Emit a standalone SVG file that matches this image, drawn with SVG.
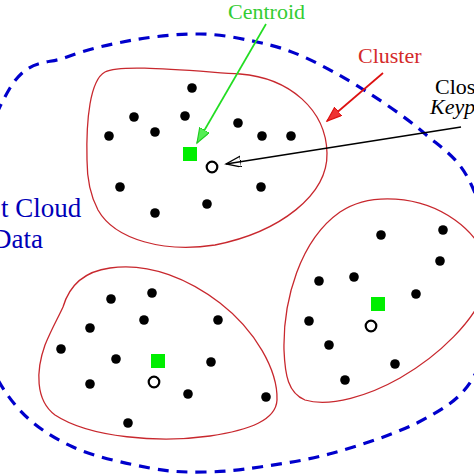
<svg xmlns="http://www.w3.org/2000/svg" width="474" height="474" viewBox="0 0 474 474">
<style>
.cl{fill:none;stroke:#c8282e;stroke-width:1.3}
.dot{fill:#000}
.cen{fill:#00ee00}
.key{fill:none;stroke:#000;stroke-width:2.2}
.t{font-family:"Liberation Serif","Times New Roman",serif;font-size:22px}
.big{font-family:"Liberation Serif","Times New Roman",serif;font-size:27px;fill:#0000b8}
</style>
<defs>
<marker id="ag" markerUnits="userSpaceOnUse" markerWidth="17" markerHeight="12" refX="15" refY="5.5" orient="auto"><path d="M0,0 L15,5.5 L0,11 z" fill="#55ee55" stroke="#22cc22" stroke-width="1.2"/></marker>
<marker id="ar" markerUnits="userSpaceOnUse" markerWidth="17" markerHeight="12" refX="15" refY="5.5" orient="auto"><path d="M0,0 L15,5.5 L0,11 z" fill="#ee3333" stroke="#dd1111" stroke-width="1.2"/></marker>
<marker id="ak" markerUnits="userSpaceOnUse" markerWidth="17" markerHeight="12" refX="15" refY="5.5" orient="auto"><path d="M0,0 L15,5.5 L0,11 z" fill="none" stroke="#000" stroke-width="1.3"/></marker>
</defs>
<rect width="474" height="474" fill="#fff"/>
<g id="cloud">
<path d="M -45,240 C -40,198 -8.7,118.5 10,88 C 28.7,57.5 46.5,65 67,57 C 87.5,49 112.5,43.8 133,40 C 155.2,36.2 179.3,33.7 200,34 C 220.7,34.3 239.7,38.2 257,42 C 274.3,45.8 286.2,49 304,57 C 321.8,65 344,77.3 364,90 C 384,102.7 406.3,117.7 424,133 C 441.7,148.3 457.7,156.7 470,182 C 482.3,207.3 497.5,252.3 498,285 C 498.5,317.7 486.5,355 473,378 C 459.5,401 440.3,410.5 417,423 C 390.8,435.5 359.2,445.7 333,453 C 306.8,460.3 281.3,463.8 260,467 C 238.7,470.2 223.3,471.8 205,472 C 186.7,472.2 172,472.2 150,468 C 128,463.8 95.2,457.2 73,447 C 50.8,436.8 32.5,424.8 17,407 C 1.5,389.2 -9.7,367.8 -20,340 C -30.3,312.2 -50,282 -45,240 Z" fill="none" stroke="#0000cc" stroke-width="3.2" stroke-dasharray="11,8"/>
<text class="big" x="1" y="217">t Cloud</text>
<text class="big" x="-8" y="248">Data</text>
</g>
<g id="cluster1">
<path class="cl" d="M 87,160 C 86,120 90,80 105,72 C 120,64 180,70 240,74 C 290,78 326,110 327,153 C 328,195 280,232 215,245 C 165,253 115,240 98,210 C 90,195 87,180 87,160 Z"/>
<g class="dot">
<circle cx="192" cy="88" r="4.8"/><circle cx="134" cy="117" r="4.8"/><circle cx="185" cy="116" r="4.8"/><circle cx="155" cy="132" r="4.8"/><circle cx="109" cy="136" r="4.8"/><circle cx="238" cy="123" r="4.8"/><circle cx="262" cy="136" r="4.8"/><circle cx="291" cy="136" r="4.8"/><circle cx="120" cy="187" r="4.8"/><circle cx="155" cy="213" r="4.8"/><circle cx="207" cy="204" r="4.8"/><circle cx="261" cy="187" r="4.8"/>
</g>
<rect class="cen" x="183" y="147" width="14" height="14"/>
<circle class="key" cx="212" cy="167" r="5.3"/>
</g>
<g id="cluster2">
<path class="cl" d="M 63,307 C 68,290 80,272 110,268 C 150,262 190,280 220,303 C 255,330 278,370 277,400 C 276,420 250,430 210,436 C 160,443 90,438 55,415 C 35,400 36,370 45,345 C 52,328 58,318 63,307 Z"/>
<g class="dot">
<circle cx="111" cy="299" r="4.8"/><circle cx="152" cy="293" r="4.8"/><circle cx="90" cy="328" r="4.8"/><circle cx="144" cy="320" r="4.8"/><circle cx="218" cy="320" r="4.8"/><circle cx="61" cy="349" r="4.8"/><circle cx="116" cy="359" r="4.8"/><circle cx="211" cy="362" r="4.8"/><circle cx="90" cy="384" r="4.8"/><circle cx="188" cy="394" r="4.8"/><circle cx="266" cy="397" r="4.8"/><circle cx="128" cy="423" r="4.8"/>
</g>
<rect class="cen" x="151" y="354" width="14" height="14"/>
<circle class="key" cx="154" cy="382" r="5.3"/>
</g>
<g id="cluster3">
<path class="cl" d="M 284,350 C 283,300 300,240 340,212 C 370,192 420,195 455,220 C 480,238 495,265 485,290 C 475,320 440,355 400,378 C 370,395 330,408 305,400 C 288,393 285,375 284,350 Z"/>
<g class="dot">
<circle cx="381" cy="235" r="4.8"/><circle cx="443" cy="230" r="4.8"/><circle cx="440" cy="261" r="4.8"/><circle cx="319" cy="281" r="4.8"/><circle cx="354" cy="277" r="4.8"/><circle cx="416" cy="294" r="4.8"/><circle cx="309" cy="321" r="4.8"/><circle cx="329" cy="345" r="4.8"/><circle cx="395" cy="364" r="4.8"/><circle cx="345" cy="380" r="4.8"/>
</g>
<rect class="cen" x="371" y="297" width="14" height="14"/>
<circle class="key" cx="371" cy="326" r="5.3"/>
</g>
<g id="connectors">
<line x1="266" y1="24" x2="197" y2="143" stroke="#22dd22" stroke-width="1.7" marker-end="url(#ag)"/>
<line x1="383" y1="73" x2="327" y2="121" stroke="#dd1111" stroke-width="1.7" marker-end="url(#ar)"/>
<line x1="461" y1="127" x2="226" y2="164" stroke="#000" stroke-width="1.7" marker-end="url(#ak)"/>
</g>
<g id="labels">
<text class="t" x="228" y="19" fill="#33cc33">Centroid</text>
<text class="t" x="358" y="63" fill="#d42a2a">Cluster</text>
<text class="t" x="435" y="94" fill="#000">Clos</text>
<text class="t" x="430" y="114" fill="#000" font-style="italic">Keyp</text>
</g>
</svg>
